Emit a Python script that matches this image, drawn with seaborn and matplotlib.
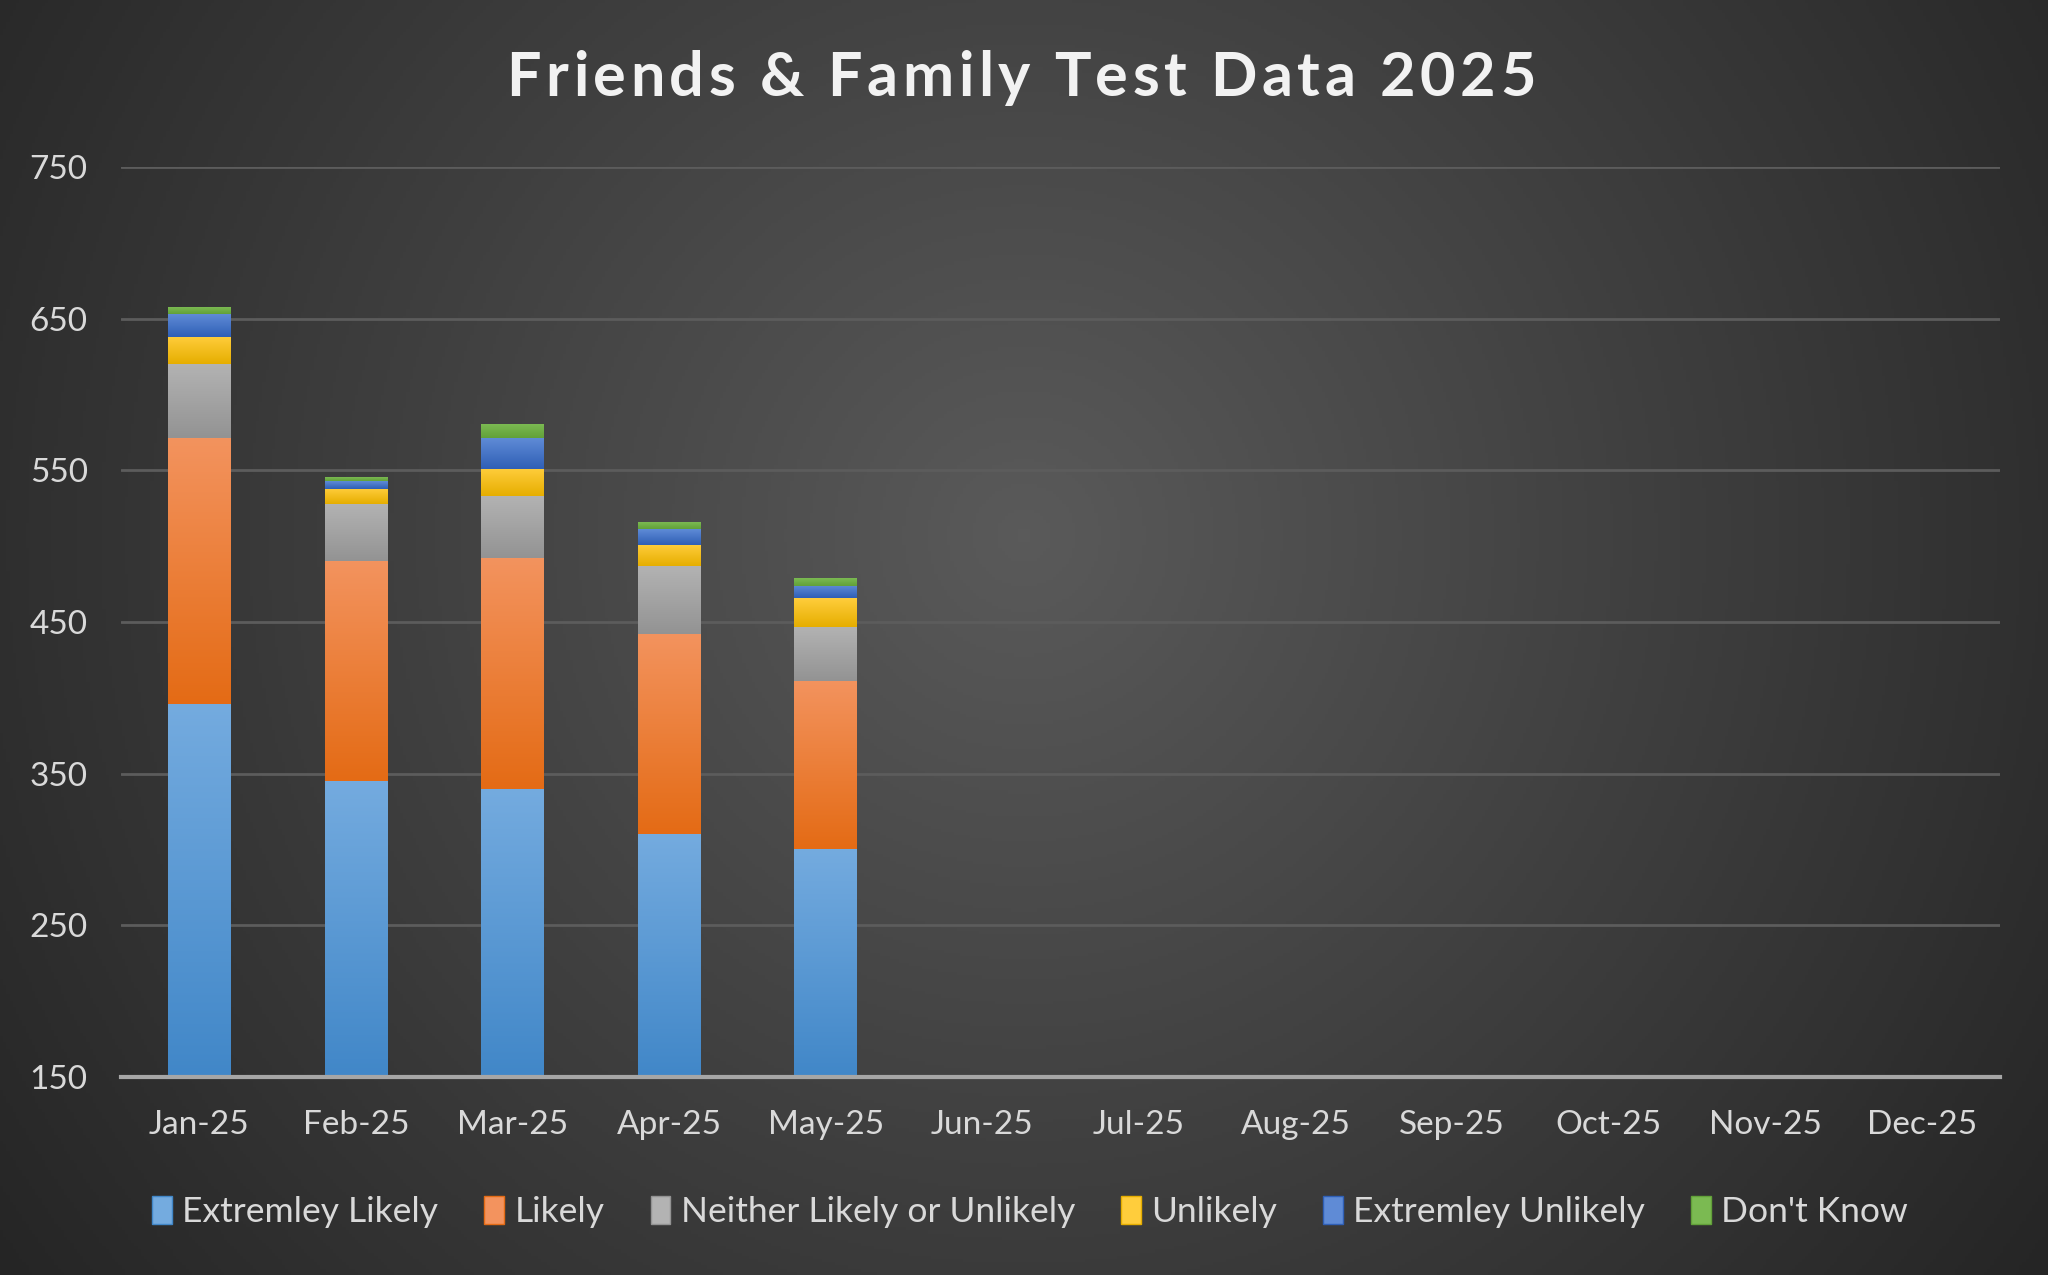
import numpy as np
import matplotlib
matplotlib.use("Agg")
import matplotlib.pyplot as plt
import seaborn as sns
from matplotlib.colors import LinearSegmentedColormap
from matplotlib.patches import Patch

# ---- data ----
months = ["Jan-25", "Feb-25", "Mar-25", "Apr-25", "May-25", "Jun-25",
          "Jul-25", "Aug-25", "Sep-25", "Oct-25", "Nov-25", "Dec-25"]
extremely_likely = [396, 345, 340, 310, 300, 0, 0, 0, 0, 0, 0, 0]
likely = [175, 145, 152, 132, 111, 0, 0, 0, 0, 0, 0, 0]
neither = [49, 38, 41, 45, 36, 0, 0, 0, 0, 0, 0, 0]
unlikely = [18, 10, 18, 14, 19, 0, 0, 0, 0, 0, 0, 0]
extremely_unlikely = [15, 5, 20, 10, 8, 0, 0, 0, 0, 0, 0, 0]
dont_know = [4, 2, 9, 4, 5, 0, 0, 0, 0, 0, 0, 0]

series_names = ["Extremley Likely", "Likely", "Neither Likely or Unlikely",
                "Unlikely", "Extremley Unlikely", "Don't Know"]
series_values = [extremely_likely, likely, neither, unlikely,
                 extremely_unlikely, dont_know]
y_ticks = [150, 250, 350, 450, 550, 650, 750]
title = "Friends & Family Test Data 2025"

# (top colour, bottom colour) for the Office-style gradient fill
palette = [("#74abdf", "#4187c8"),
           ("#f3935e", "#e46b15"),
           ("#b3b3b3", "#939393"),
           ("#ffcd3c", "#e6ae00"),
           ("#5f8bd6", "#2f5fb6"),
           ("#7bba52", "#62a139")]

sns.set_theme(style="white")
plt.rcParams["font.family"] = ["Lato", "DejaVu Sans"]
text_col = "#d9d9d9"

W, H = 2048, 1275
fig = plt.figure(figsize=(W / 100, H / 100), dpi=100)

# radial background gradient
bg = fig.add_axes([0, 0, 1, 1], zorder=-10)
yy, xx = np.mgrid[0:1:400j, 0:1:640j]
r = np.sqrt(((xx - 0.50) * 1.6) ** 2 + ((yy - 0.42) * 1.0) ** 2)
r = np.clip(r / r.max(), 0, 1)
bg_cmap = LinearSegmentedColormap.from_list("bg", ["#5a5a5a", "#3f3f3f", "#252525"])
bg.imshow(r, cmap=bg_cmap, aspect="auto", extent=(0, 1, 0, 1), origin="upper")
bg.axis("off")

ax = fig.add_axes([121 / W, (H - 1077) / H, (2000 - 121) / W, (1077 - 167) / H])
ax.set_facecolor("none")

bottoms = np.zeros(len(months))
for name, vals, (top_c, bot_c) in zip(series_names, series_values, palette):
    sns.barplot(x=months, y=vals, order=months, color=bot_c, saturation=1,
                width=0.4, bottom=bottoms.copy(), linewidth=0, ax=ax)
    bottoms += np.array(vals)

ymin, ymax = y_ticks[0], y_ticks[-1]

# gradient overlay on each visible bar segment
for container, (top_c, bot_c) in zip(ax.containers, palette):
    cmap = LinearSegmentedColormap.from_list("g", [bot_c, top_c])
    grad = np.linspace(0, 1, 128).reshape(-1, 1)
    for p in container.patches:
        x0, w = p.get_x(), p.get_width()
        y0, h = p.get_y(), p.get_height()
        lo, hi = max(y0, ymin), min(y0 + h, ymax)
        if hi <= lo:
            continue
        ax.imshow(grad, cmap=cmap, origin="lower", aspect="auto",
                  extent=(x0, x0 + w, lo, hi), zorder=3, interpolation="bilinear")
        p.set_zorder(2)

ax.set_xlim(-0.5, len(months) - 0.5)
ax.set_ylim(ymin, ymax)
ax.set_yticks(y_ticks)
ax.set_xticks(range(len(months)))
ax.set_xticklabels(months)
ax.set_xlabel("")
ax.set_ylabel("")
ax.yaxis.grid(True, color="#5c5c5c", linewidth=2)
ax.xaxis.grid(False)
ax.set_axisbelow(True)
for s in ["top", "right", "left"]:
    ax.spines[s].set_visible(False)
ax.spines["bottom"].set_color("#a6a6a6")
ax.spines["bottom"].set_linewidth(3)
ax.spines["bottom"].set_zorder(5)
ax.tick_params(axis="y", length=0, pad=24, labelsize=24, labelcolor=text_col)
ax.tick_params(axis="x", length=0, pad=24, labelsize=24, labelcolor=text_col)

# title with letter spacing, placed character by character
renderer = fig.canvas.get_renderer()
title_kw = dict(fontsize=44, fontweight="bold", color="#f2f2f2", va="center")


def text_width(s):
    t = fig.text(0, 0, s, **title_kw)
    w = t.get_window_extent(renderer).width
    t.remove()
    return w


bar_w = text_width("|")
full_w = text_width(title)
target_w = 1029
tracking = (target_w - full_w) / (len(title) - 1)
x_start = 1021 - target_w / 2
for i, ch in enumerate(title):
    if ch == " ":
        continue
    xi = x_start + text_width(title[:i] + "|") - bar_w + i * tracking
    fig.text(xi / W, 1 - 78 / H, ch, ha="left", **title_kw)

handles = [Patch(facecolor=top_c, edgecolor=bot_c, label=n)
           for n, (top_c, bot_c) in zip(series_names, palette)]
fig.legend(handles=handles, loc="center", bbox_to_anchor=(0.503, 1 - 1212 / H),
           ncol=6, frameon=False, fontsize=25.5, labelcolor=text_col,
           handlelength=0.55, handleheight=0.85, handletextpad=0.3, columnspacing=1.3)

fig.savefig("out.png", dpi=100)
